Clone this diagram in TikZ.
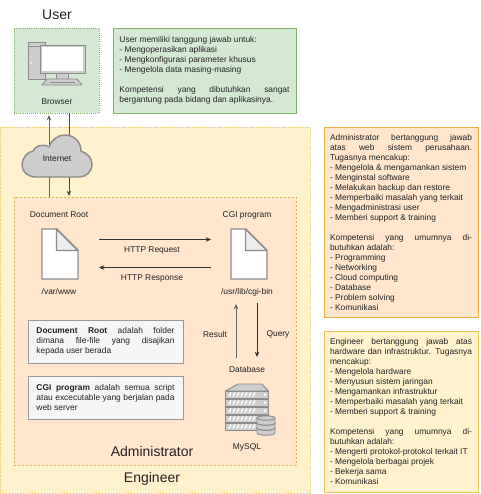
\documentclass[tikz,border=0pt]{standalone}
\usepackage{fontspec}
\setmainfont{Liberation Sans}
\usetikzlibrary{arrows.meta}
\definecolor{gfill}{HTML}{D5E8D4}
\definecolor{gline}{HTML}{82B366}
\definecolor{yfill}{HTML}{FFF2CC}
\definecolor{yline}{HTML}{E6C65C}
\definecolor{ofill}{HTML}{FFE6CC}
\definecolor{oline}{HTML}{F0B040}
\definecolor{iconline}{HTML}{8C8C8C}
\definecolor{iconfill}{HTML}{CDCDCD}
\definecolor{txt}{HTML}{222222}
\newcommand{\bodyfont}{\fontsize{6.3}{7.5}\selectfont\tolerance=9999\hyphenpenalty=10000\color{txt}}
\tikzset{
  panel/.style={draw,line width=0.6pt,anchor=north west,inner sep=0pt,outer sep=0pt},
  infobox/.style={panel,align=justify,font=\bodyfont},
  notebox/.style={infobox,draw=black!40,fill=black!4,text width=103.5pt,inner xsep=6.375pt,minimum height=32.25pt},
  lbl/.style={font=\bodyfont,inner sep=0pt},
  bigl/.style={font=\fontsize{10.5}{12}\selectfont\color{txt},inner sep=0pt},
  conn/.style={line width=0.6pt,draw=black!80,-{Stealth[length=4pt,width=3.5pt]}},
  iconp/.style={draw=iconline,fill=iconfill,line width=0.7pt,line join=round},
  fileicon/.style={draw=iconline,fill=white,line width=1.1pt,line join=round},
  foldicon/.style={draw=iconline,fill=black!7,line width=1.1pt,line join=round},
}
\begin{document}
\begin{tikzpicture}[x=0.75pt,y=-0.75pt]
\useasboundingbox (0,0) rectangle (480,494);
% containers
\node[panel,draw=yline,fill=yfill,densely dotted,minimum width=232.5pt,minimum height=274.5pt] (engineer) at (0,127) {};
\node[panel,draw=oline,fill=ofill,dash pattern=on 1.5pt off 1.5pt,minimum width=211.5pt,minimum height=201pt] (admin) at (14,197) {};
\node[panel,draw=gline,fill=gfill,densely dotted,minimum width=63.75pt,minimum height=63.75pt] (browser) at (14,28) {};
% info boxes
\node[infobox,draw=gline,fill=gfill,text width=127.5pt,inner xsep=4.875pt,minimum height=63.75pt] (userinfo) at (113,28) {User memiliki tanggung jawab untuk:\\
- Mengoperasikan aplikasi\\
- Mengkonfigurasi parameter khusus\\
- Mengelola data masing-masing\\[7.5pt]
Kompetensi yang dibutuhkan sangat\linebreak
bergantung pada bidang dan aplikasinya.};
\node[infobox,draw=yline!70!orange,fill=ofill,text width=106.5pt,inner xsep=4.5pt,minimum height=142.5pt] (admininfo) at (324,127) {Administrator bertanggung jawab\linebreak
atas web sistem perusahaan.\linebreak
Tugasnya mencakup:\\
- Mengelola \& mengamankan sistem\\
- Menginstal software\\
- Melakukan backup dan restore\\
- Memperbaiki masalah yang terkait\\
- Mengadministrasi user\\
- Memberi support \& training\\[7.5pt]
Kompetensi yang umumnya di-\linebreak
butuhkan adalah:\\
- Programming\\
- Networking\\
- Cloud computing\\
- Database\\
- Problem solving\\
- Komunikasi};
\node[infobox,draw=yline,fill=yfill,text width=106.5pt,inner xsep=4.5pt,minimum height=120.75pt] (enginfo) at (324,331) {Engineer bertanggung jawab atas\linebreak
hardware dan infrastruktur. Tugasnya\linebreak
mencakup:\\
- Mengelola hardware\\
- Menyusun sistem jaringan\\
- Mengamankan infrastruktur\\
- Memperbaiki masalah yang terkait\\
- Memberi support \& training\\[7.5pt]
Kompetensi yang umumnya di-\linebreak
butuhkan adalah:\\
- Mengerti protokol-protokol terkait IT\\
- Mengelola berbagai projek\\
- Bekerja sama\\
- Komunikasi};
\node[notebox] (noteroot) at (28,320) {\textbf{Document Root} adalah folder\linebreak
dimana file-file yang disajikan\linebreak
kepada user berada};
\node[notebox] (notecgi) at (28,376) {\textbf{CGI program} adalah semua script\linebreak
atau excecutable yang berjalan pada\linebreak
web server};
% connector end points
\coordinate (upfrom) at (49,197);
\coordinate (upto) at (49,115);
\coordinate (downfrom) at (69,113);
\coordinate (downto) at (69,196);
\coordinate (reqa) at (99,239.5);
\coordinate (reqb) at (211,239.5);
\coordinate (resa) at (211,267.5);
\coordinate (resb) at (99,267.5);
\coordinate (resulta) at (236,358);
\coordinate (resultb) at (236,304);
\coordinate (querya) at (257,303);
\coordinate (queryb) at (257,357);
% internet connectors behind the cloud
\draw[conn,draw=black!60] (upfrom) -- (upto);
\draw[conn,draw=black!70] (downfrom) -- (downto);
% cloud
\draw[draw=iconline,fill=iconfill,line width=1.1pt,line join=round]
  (36,177) .. controls (28,177) and (22,172) .. (22,165)
  .. controls (22,158) and (27,152) .. (33,151)
  .. controls (35,146) and (43,143) .. (49,147)
  .. controls (51,140) and (58,135) .. (65,135)
  .. controls (74,135) and (81,142) .. (81,151)
  .. controls (87,153) and (92,158) .. (92,164)
  .. controls (92,172) and (86,177) .. (79,177) -- cycle;
\node[lbl] (internet) at (57,159) {Internet};
% computer
\draw[iconp] (28,42) rectangle (45,79);
\draw[iconline,line width=0.5pt] (28,46) -- (45,46);
\fill[white] (31,63) circle (0.9);
\draw[iconp] (56,72) rectangle (68,79);
\draw[iconp] (47,79) -- (77,79) -- (82,85) -- (42,85) -- cycle;
\draw[iconline,line width=0.5pt] (50,82) -- (75,82);
\draw[iconp,fill=iconfill] (40,45) rectangle (85,73);
\fill[white] (42,47) rectangle (83,71);
\node[lbl] (browserl) at (57,102) {Browser};
% titles
\node[bigl] (usert) at (57,15) {User};
\node[bigl] (admint) at (152,451) {Administrator};
\node[bigl] (engt) at (152,479) {Engineer};
% file icons
\foreach \fx in {42,231}{
  \draw[fileicon] (\fx,229) -- (\fx+14.5,229) -- (\fx+36,250.5) -- (\fx+36,279) -- (\fx,279) -- cycle;
  \draw[foldicon] (\fx+14.5,229) -- (\fx+36,250.5) -- (\fx+14.5,250.5) -- cycle;
}
\node[lbl] (rootl) at (59,215) {Document Root};
\node[lbl] (cgil) at (247,215) {CGI program};
\node[lbl] (varl) at (59,291) {/var/www};
\node[lbl] (usrl) at (247,292) {/usr/lib/cgi-bin};
% http connectors
\draw[conn] (reqa) -- (reqb);
\draw[conn] (resa) -- (resb);
\node[lbl] (reql) at (152,250) {HTTP Request};
\node[lbl] (resl) at (152,278) {HTTP Response};
% database connectors
\draw[conn,draw=black!60] (resulta) -- (resultb);
\draw[conn] (querya) -- (queryb);
\node[lbl] (resultl) at (215,334) {Result};
\node[lbl] (queryl) at (278,334) {Query};
\node[lbl] (dbl) at (247,369) {Database};
\node[lbl] (mysql) at (247,447) {MySQL};
% server
\draw[iconp] (225.5,391) -- (238,384) -- (262,384) -- (268.5,391) -- cycle;
\foreach \by in {391,399,407,415,423}{
  \draw[iconp] (225.5,\by) rectangle (268.5,\by+7);
  \foreach \sx in {229,233,237,241,245,249,253}{
    \draw[white,line width=1.1pt] (\sx,\by+5.5) -- (\sx+2,\by+1.5);
  }
  \fill[white] (265,\by+3.5) circle (1.5);
}
\foreach \cy in {428,423,418}{
  \draw[iconp,fill=iconfill] (257,\cy) -- (257,\cy+5) arc[start angle=180,end angle=360,x radius=9,y radius=-2.2] -- (275,\cy) -- cycle;
  \draw[iconp,fill=iconfill] (266,\cy) ellipse [x radius=9,y radius=2.2];
}
\end{tikzpicture}
\end{document}
